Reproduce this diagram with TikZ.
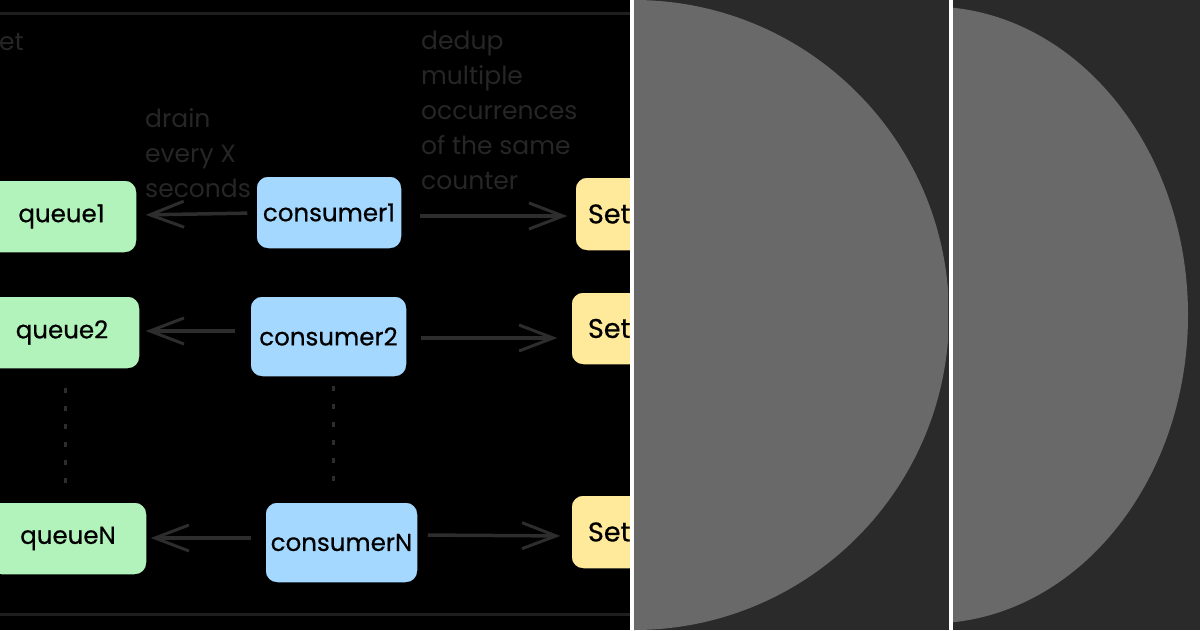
\documentclass[tikz,border=0pt]{standalone}
\usepackage{fontspec}
\setmainfont{Poppins}
\newfontfamily\boxfont[FakeBold=0.6]{Poppins}
\usetikzlibrary{arrows.meta}
\definecolor{panelbg}{HTML}{2A2A2A}
\definecolor{panelgray}{HTML}{696969}
\definecolor{faint}{HTML}{262626}
\definecolor{linec}{HTML}{2D2D2D}
\definecolor{framec}{HTML}{1E1E1E}
\definecolor{greenbox}{HTML}{B2F2BB}
\definecolor{bluebox}{HTML}{A5D8FF}
\definecolor{yellowbox}{HTML}{FFE99A}
\tikzset{
  boxbase/.style={draw=black,line width=1.5pt,rounded corners=12pt,inner sep=0pt,text=black,
    font=\boxfont\fontsize{24.5}{26}\selectfont,anchor=center},
  qbox/.style={boxbase,fill=greenbox},
  cbox/.style={boxbase,fill=bluebox},
  sbox/.style={boxbase,fill=yellowbox,text width=84pt,align=left,font=\boxfont\fontsize{27}{28}\selectfont},
  note/.style={text=faint,font=\fontsize{25}{35}\selectfont,align=left,anchor=north west,inner sep=0pt},
  arr/.style={draw=linec,line width=3.5pt,-{Straight Barb[length=34pt,width=26pt,line width=3pt]}},
  dots/.style={draw=linec,line width=3pt,dash pattern=on 5pt off 13pt},
  framel/.style={draw=framec,line width=3pt}
}
\newcommand{\boxtxt}[1]{\raisebox{-2.5pt}{#1}}
\begin{document}
\begin{tikzpicture}[x=1pt,y=-1pt]
\useasboundingbox (0,0) rectangle (1200,630);
\fill[black] (0,0) rectangle (1200,630);
\draw[framel] (0,13) -- (630,13);
\draw[framel] (0,614) -- (630,614);

\node[note] (noteet) at (-1,33) {et};
\node[note] (notedrain) at (145,108) {drain\\every X\\seconds};
\node[note] (notededup) at (421,31) {dedup\\multiple\\occurrences\\of the same\\counter};

\node[qbox,minimum width=151pt,minimum height=73pt] (q1) at (61.5,216.5) {\boxtxt{queue1}};
\node[cbox,minimum width=146pt,minimum height=73pt] (c1) at (329,212.5) {consumer1};
\node[sbox,minimum width=110pt,minimum height=74pt] (s1) at (630,214) {Set};

\node[qbox,minimum width=156pt,minimum height=73pt] (q2) at (62,332.5) {\boxtxt{queue2}};
\node[cbox,minimum width=157pt,minimum height=81pt] (c2) at (328.5,336.5) {consumer2};
\node[sbox,minimum width=118pt,minimum height=73pt] (s2) at (630,328.5) {Set};

\node[qbox,minimum width=158pt,minimum height=73pt] (qN) at (68,538.5) {\boxtxt{queueN}};
\node[cbox,minimum width=153pt,minimum height=81pt] (cN) at (341.5,542.5) {consumerN};
\node[sbox,minimum width=118pt,minimum height=74pt] (sN) at (630,532) {Set};

\draw[arr,shorten <=8pt,shorten >=8pt] ([yshift=-.5pt]c1.west) -- (q1.east |- 0,215);
\draw[arr,shorten <=17pt,shorten >=7pt] (c1.east |- 0,216) -- (s1.west |- 0,216);
\draw[arr,shorten <=14pt,shorten >=5pt] (c2.west |- 0,331) -- (q2.east |- 0,331);
\draw[arr,shorten <=13pt,shorten >=13pt] (c2.east |- 0,338) -- (s2.west |- 0,338);
\draw[arr,shorten <=13pt,shorten >=3pt] (cN.west |- 0,538) -- (qN.east |- 0,538);
\draw[arr,shorten <=9pt,shorten >=10pt] (cN.east |- 0,535) -- (sN.west |- 0,536);

\draw[dots,shorten <=18pt,shorten >=17pt] (q2.south -| 65,0) -- (qN.north -| 65,0);
\draw[dots,shorten <=8pt,shorten >=19pt] (c2.south -| 333,0) -- (cN.north -| 333,0);

% right panels
\fill[white] (630,0) rectangle (1200,630);
\fill[panelbg] (634,0) rectangle (949,630);
\begin{scope}
\clip (634,0) rectangle (948,630);
\fill[panelgray] (634,315) circle[radius=315];
\end{scope}
\fill[panelbg] (953,0) rectangle (1200,630);
\begin{scope}
\clip (953,0) rectangle (1200,630);
\fill[panelgray] (930,315) ellipse[x radius=258,y radius=308.5];
\end{scope}
\end{tikzpicture}
\end{document}
